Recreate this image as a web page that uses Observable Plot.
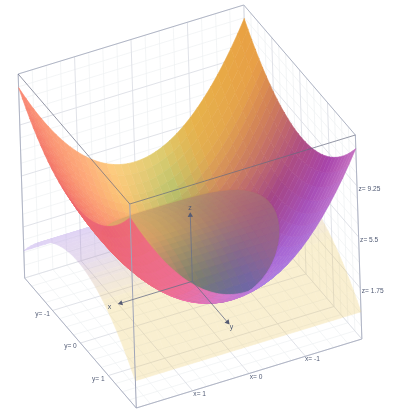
<!DOCTYPE html>
<html>
<head>
<meta charset="utf-8">
<style>html,body{margin:0;padding:0;background:#fff}</style>
<script src="https://cdn.jsdelivr.net/npm/d3@7"></script>
<script src="https://cdn.jsdelivr.net/npm/@observablehq/plot@0.6"></script>
</head>
<body>
<div id="chart"></div>
<script>
// Sample positions across the domain of both surfaces
const gridPositions = [-2,-1.875,-1.75,-1.625,-1.5,-1.375,-1.25,-1.125,-1,-0.875,-0.75,-0.625,-0.5,-0.375,-0.25,-0.125,0,0.125,0.25,0.375,0.5,0.625,0.75,0.875,1,1.125,1.25,1.375,1.5,1.625,1.75,1.875,2];
// Height of the bowl: rise along x plus rise along y
const bowlRiseX = [8,7.031,6.125,5.281,4.5,3.781,3.125,2.531,2,1.531,1.125,0.781,0.5,0.281,0.125,0.031,0,0.031,0.125,0.281,0.5,0.781,1.125,1.531,2,2.531,3.125,3.781,4.5,5.281,6.125,7.031,8];
const bowlRiseY = [4,3.516,3.063,2.641,2.25,1.891,1.563,1.266,1,0.766,0.563,0.391,0.25,0.141,0.063,0.016,0,0.016,0.063,0.141,0.25,0.391,0.563,0.766,1,1.266,1.563,1.891,2.25,2.641,3.063,3.516,4];
// Height of the sheet along y (it does not change along x)
const sheetHeight = [0,0.484,0.938,1.359,1.75,2.109,2.438,2.734,3,3.234,3.438,3.609,3.75,3.859,3.938,3.984,4,3.984,3.938,3.859,3.75,3.609,3.438,3.234,3,2.734,2.438,2.109,1.75,1.359,0.938,0.484,0];

// Colour at these surface positions
const colourX = [-2,-1,-0.4,0.4,1,2];
const colourY = [-2,-1.5,-1,0,1,2];
const bowlColours = [
  ["#e9a03c","#e8b246","#e1cd6e","#fdcd7d","#fdaa78","#fa8770"],
  ["#e89b41","#e1aa4b","#b9c369","#fac36e","#fda573","#f57869"],
  ["#d27d50","#cd825a","#a09655","#f09664","#fa916e","#f37064"],
  ["#af4b7d","#96378c","#966478","#e68282","#f2687c","#ee6469"],
  ["#a53ca5","#a564d7","#be78d7","#ee73b8","#f26f92","#ec6174"],
  ["#c66ebe","#aa6edc","#a57de6","#d97bcf","#f06e9c","#ee6a76"]
];
const lensColours = [
  ["#b47d6e","#b98c69","#b9a064","#d7a56e","#e1a56e","#e1a56e"],
  ["#b47d6e","#b98c69","#b9a064","#d7a56e","#e1a56e","#e1a56e"],
  ["#af7373","#b47d6e","#af916c","#cda569","#e1a56c","#e1a56c"],
  ["#a0647d","#a86978","#aa7d6e","#c3a064","#e6a069","#e6a069"],
  ["#8c6491","#91648c","#786996","#73806e","#be826e","#be826e"],
  ["#7864a0","#7864a0","#465ab9","#465ab4","#be7878","#be7878"]
];
const sheetColours = ["#966ede","#966edc","#a078dc","#af8cc8","#eccb64","#eccb6a"];

// Box extents and grid
const boxXY = [-2, 2];
const boxZ = [-2, 13];
const minorXY = [-2,-1.75,-1.5,-1.25,-1,-0.75,-0.5,-0.25,0,0.25,0.5,0.75,1,1.25,1.5,1.75,2];
const minorZ = [-2,-1.0625,-0.125,0.8125,1.75,2.6875,3.625,4.5625,5.5,6.4375,7.375,8.3125,9.25,10.1875,11.125,12.0625,13];
const xTicks = [1, 0, -1];
const yTicks = [-1, 0, 1];
const zTicks = [9.25, 5.5, 1.75];
const axisTipLength = [1.27, 1.26, 4.85];
const axisLabelLength = [1.47, 1.4, 5.4];
const axisNames = ["x", "y", "z"];

// Orthographic camera: box coordinates to the view plane
const viewOrigin = [191.9, 280.8];
const viewRight = [-56.4, 27.9, -0.433];
const viewDown = [17.25, 32.5, -13.6];
const viewDepth = [22.75, 48.5, 10.27];
const dot3 = (a, p) => a[0]*p[0] + a[1]*p[1] + a[2]*p[2];
const px = p => viewOrigin[0] + dot3(viewRight, p);
const py = p => viewOrigin[1] + dot3(viewDown, p);
const depth = p => dot3(viewDepth, p);

function sampler(grid) {
  const rows = grid.map(r => r.map(c => d3.rgb(c)));
  const cell = (arr, v) => {
    const i = Math.min(arr.length - 2, Math.max(0, d3.bisectRight(arr, v) - 1));
    return [i, (v - arr[i]) / (arr[i+1] - arr[i])];
  };
  return (x, y) => {
    const [i, s] = cell(colourX, x), [j, t] = cell(colourY, y);
    const mix = k => (1-t)*((1-s)*rows[j][i][k] + s*rows[j][i+1][k]) + t*((1-s)*rows[j+1][i][k] + s*rows[j+1][i+1][k]);
    return `rgb(${Math.round(mix("r"))},${Math.round(mix("g"))},${Math.round(mix("b"))})`;
  };
}
const bowlColour = sampler(bowlColours);
const lensColour = sampler(lensColours);
const sheetColour = sampler(sheetColours.map(c => colourX.map(() => c)));

// Keep the part of a polygon on one side of where the two surfaces cross
function clip(poly, sign) {
  const out = [];
  for (let i = 0; i < poly.length; i++) {
    const a = poly[i], b = poly[(i+1) % poly.length];
    const sa = sign * a.s, sb = sign * b.s;
    if (sa >= 0) out.push(a);
    if ((sa > 0 && sb < 0) || (sa < 0 && sb > 0)) {
      const t = sa / (sa - sb);
      out.push({x: a.x+t*(b.x-a.x), y: a.y+t*(b.y-a.y), bz: a.bz+t*(b.bz-a.bz), sz: a.sz+t*(b.sz-a.sz), s: 0});
    }
  }
  return out.length >= 3 ? out : null;
}
const layers = {sheetOuter: [], bowlInner: [], sheetInner: [], bowlOuter: []};
function addPolygon(list, poly, zKey, colour) {
  const pts = poly.map(v => [v.x, v.y, v[zKey]]);
  const cx = d3.mean(pts, p => p[0]), cy = d3.mean(pts, p => p[1]);
  list.push({pts, d: d3.mean(pts, depth), c: colour(cx, cy)});
}
const vertex = (i, j) => {
  const bz = bowlRiseX[i] + bowlRiseY[j], sz = sheetHeight[j];
  return {x: gridPositions[i], y: gridPositions[j], bz, sz, s: bz - sz};
};
for (let i = 0; i < gridPositions.length - 1; i++) {
  for (let j = 0; j < gridPositions.length - 1; j++) {
    const q = [vertex(i,j), vertex(i+1,j), vertex(i+1,j+1), vertex(i,j+1)];
    const outer = clip(q, 1), inner = clip(q, -1);
    if (outer) { addPolygon(layers.bowlOuter, outer, "bz", bowlColour); addPolygon(layers.sheetOuter, outer, "sz", sheetColour); }
    if (inner) { addPolygon(layers.bowlInner, inner, "bz", bowlColour); addPolygon(layers.sheetInner, inner, "sz", lensColour); }
  }
}
function toRows(list) {
  const rows = [];
  list.sort((a, b) => a.d - b.d).forEach((poly, id) => {
    [...poly.pts, poly.pts[0]].forEach(p => rows.push({id, c: poly.c, x: px(p), y: py(p)}));
  });
  return rows;
}
const meshMark = list => Plot.line(toRows(list), {x: "x", y: "y", z: "id", fill: "c", stroke: "c", strokeWidth: 0.6});

// Grid and box lines as 3D segments
const seg = (a, b, kind) => ({x1: px(a), y1: py(a), x2: px(b), y2: py(b), kind});
const [lo, hi] = boxXY, [zlo, zhi] = boxZ;
const isMajorXY = v => Number.isInteger(v);
const isMajorZ = v => zTicks.includes(v);
const gridSegs = [];
for (const v of minorXY) {
  const k = isMajorXY(v) ? "major" : "minor";
  gridSegs.push(seg([v,lo,zlo],[v,hi,zlo],k), seg([lo,v,zlo],[hi,v,zlo],k), seg([v,lo,zlo],[v,lo,zhi],k), seg([lo,v,zlo],[lo,v,zhi],k));
}
for (const v of minorZ) {
  const k = isMajorZ(v) ? "major" : "minor";
  gridSegs.push(seg([lo,lo,v],[hi,lo,v],k), seg([lo,lo,v],[lo,hi,v],k));
}
const gridLink = k => Plot.link(gridSegs.filter(d => d.kind === k), {x1:"x1",y1:"y1",x2:"x2",y2:"y2",stroke: k === "major" ? "#dcdfe5" : "#eef0f2",strokeWidth: k === "major" ? 0.9 : 0.7});
const backEdges = [
  seg([hi,lo,zhi],[lo,lo,zhi]), seg([lo,lo,zhi],[lo,hi,zhi]),
  seg([hi,lo,zhi],[hi,lo,zlo]), seg([lo,hi,zhi],[lo,hi,zlo]),
  seg([hi,lo,zlo],[hi,hi,zlo]), seg([hi,hi,zlo],[lo,hi,zlo])
];
const frontVertical = [seg([hi,hi,zhi],[hi,hi,zlo])];
const frontTop = [seg([hi,lo,zhi],[hi,hi,zhi]), seg([hi,hi,zhi],[lo,hi,zhi])];

// Axes through the origin
const axisUnit = i => [0,1,2].map(k => k === i ? 1 : 0);
const axisPoint = (i, len) => axisUnit(i).map(v => v * len);
const axisLines = axisNames.map((n, i) => seg([0,0,0], axisPoint(i, axisTipLength[i])));
const axisTips = axisNames.map((n, i) => {
  const p = axisPoint(i, axisTipLength[i]);
  return {x: px(p), y: py(p), angle: Math.atan2(px(p)-px([0,0,0]), -(py(p)-py([0,0,0]))) * 180 / Math.PI};
});
const axisLabels = axisNames.map((n, i) => {
  const p = axisPoint(i, axisLabelLength[i]);
  return {x: px(p), y: py(p), t: n};
});

const tick = (p, t) => ({x: px(p), y: py(p), t});
const xLabels = xTicks.map(v => tick([v,hi,zlo], `x= ${v}`));
const yLabels = yTicks.map(v => tick([hi,v,zlo], `y= ${v}`));
const zLabels = zTicks.map(v => tick([lo,hi,v], `z= ${v}`));
const font = {fontFamily: "Liberation Sans, Arial, sans-serif", fontSize: 6.6, fill: "#505a74", x: "x", y: "y", text: "t"};
const edge = (data, stroke, strokeWidth) => Plot.link(data, {x1:"x1",y1:"y1",x2:"x2",y2:"y2",stroke,strokeWidth});

const plot = Plot.plot({
  width: 400, height: 419,
  margin: 0,
  x: {domain: [0, 400], range: [0, 400], axis: null},
  y: {domain: [0, 419], range: [0, 419], axis: null},
  color: {type: "identity"},
  style: {background: "#fff"},
  marks: [
    gridLink("minor"),
    gridLink("major"),
    edge(backEdges, "#b0b5c5", 1),
    meshMark(layers.sheetOuter),
    meshMark(layers.bowlInner),
    meshMark(layers.sheetInner),
    meshMark(layers.bowlOuter),
    edge(frontVertical, "#a0a5b8", 1),
    edge(frontTop, "#666a80", 0.7),
    edge(axisLines, "#6a7088", 0.8),
    Plot.dot(axisTips, {x:"x",y:"y",symbol:"triangle",r:2,fill:"#555b73",stroke:"none",rotate:"angle"}),
    Plot.text(axisLabels, {...font, fontSize: 7}),
    Plot.text(xLabels, {...font, dx: 7, dy: 3, textAnchor: "middle"}),
    Plot.text(yLabels, {...font, dx: -10, dy: 3, textAnchor: "middle"}),
    Plot.text(zLabels, {...font, dx: 1.5, dy: 2.5, textAnchor: "start"})
  ]
});
const surfaces = plot.querySelectorAll('g[aria-label="line"]');
const surfaceOpacity = [0.3, 1, 0.9, 0.97];
surfaces.forEach((g, i) => { g.style.opacity = surfaceOpacity[i]; g.style.filter = "blur(0.5px)"; });
plot.style.filter = "blur(0.3px)";
document.getElementById("chart").append(plot);
</script>
</body>
</html>
